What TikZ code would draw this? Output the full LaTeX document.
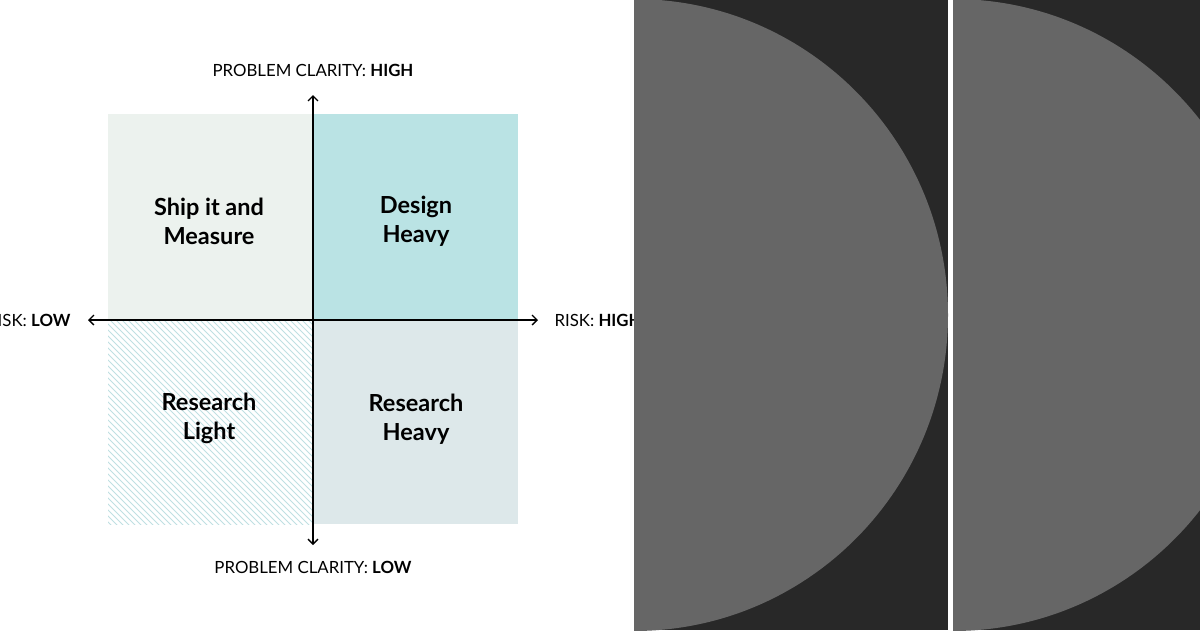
\documentclass[tikz,border=0pt]{standalone}
\usepackage{fontspec}
\setmainfont{Lato}
\usetikzlibrary{arrows.meta}
\definecolor{qtl}{HTML}{ECF2EE}
\definecolor{qtr}{HTML}{BAE3E4}
\definecolor{qbr}{HTML}{DDE8EA}
\definecolor{hatch}{HTML}{BFE0E2}
\definecolor{panel}{HTML}{282828}
\definecolor{disc}{HTML}{666666}
\tikzset{
  quad/.style={font=\fontsize{23.5}{29}\selectfont\bfseries, align=center, text=black},
  axlabel/.style={font=\fontsize{16.8}{20}\selectfont, text=black},
  axis/.style={line width=1.3pt, {Straight Barb[length=5pt,width=10pt]}-{Straight Barb[length=5pt,width=10pt]}}
}
\begin{document}
\begin{tikzpicture}[x=1pt,y=-1pt]
\useasboundingbox (0,0) rectangle (1200,630);
\fill[white] (0,0) rectangle (1200,630);
\fill[qtl] (108,114) rectangle (313,320);
\fill[qtr] (313,114) rectangle (518,320);
\fill[qbr] (313,320) rectangle (518,524);
\begin{scope}
\clip (108,320) rectangle (313,524);
\foreach \i in {-220,-214,...,220} {
  \draw[hatch, line width=1pt] (108+\i,320) -- (108+\i+220,540);
}
\end{scope}
\node[quad] (tl) at (209,221) {Ship it and\\Measure};
\node[quad] (tr) at (416,221) {Design\\Heavy};
\node[quad] (bl) at (209,418) {Research\\Light};
\node[quad] (br) at (416,419) {Research\\Heavy};
\coordinate (xl) at (88,320);
\coordinate (xr) at (538,320);
\coordinate (yt) at (313,95);
\coordinate (yb) at (313,545);
\draw[axis] (xl) -- (xr);
\draw[axis] (yt) -- (yb);
\node[axlabel] (top) at (313,70) {PROBLEM CLARITY: \textbf{HIGH}};
\node[axlabel] (bot) at (313,567) {PROBLEM CLARITY: \textbf{LOW}};
\node[axlabel, anchor=east] (lft) at (74,320) {RISK: \textbf{LOW}};
\node[axlabel, anchor=west] (rgt) at (551,320) {RISK: \textbf{HIGH}};
\fill[panel] (634,0) rectangle (948,630);
\fill[panel] (953,0) rectangle (1200,630);
\begin{scope}
\clip (634,0) rectangle (948,630);
\fill[disc] (634,315) ellipse [x radius=314, y radius=316];
\end{scope}
\begin{scope}
\clip (953,0) rectangle (1200,630);
\fill[disc] (953,315) ellipse [x radius=314, y radius=316];
\end{scope}
\end{tikzpicture}
\end{document}
